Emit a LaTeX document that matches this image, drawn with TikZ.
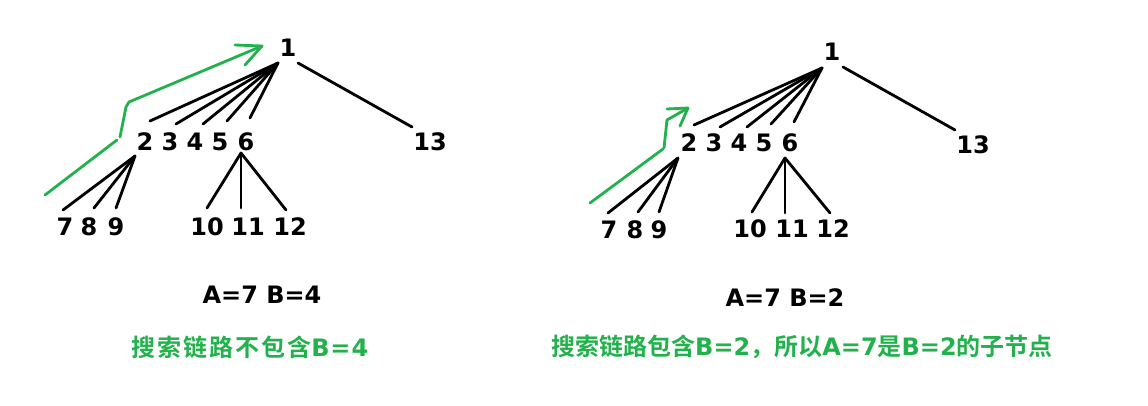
\documentclass[tikz,border=0pt]{standalone}
\usepackage{fontspec}
\usetikzlibrary{calc}
\setmainfont{DejaVu Sans}
\newfontfamily\lat{DejaVu Sans}
\newfontfamily\cjk{Noto Sans CJK SC}[BoldFont={* Bold}]
\newfontfamily\cjksp{Noto Sans CJK SC}[BoldFont={* Bold},LetterSpace=8]
\newfontfamily\latsp{DejaVu Sans}[LetterSpace=4]
\definecolor{pgreen}{HTML}{22B14C}
\begin{document}
\begin{tikzpicture}[x=1pt,y=-1pt,
  edge/.style={line width=2.8pt, line cap=round},
  gr/.style={line width=2.8pt, draw=pgreen, line cap=round, line join=round},
  num/.style={font=\lat\bfseries\fontsize{24}{28}\selectfont, inner sep=0pt},
  gtext/.style={font=\bfseries\fontsize{24}{28}\selectfont, text=pgreen, inner sep=0pt}]
\useasboundingbox (0,0) rectangle (1148,406);
\fill[white] (0,0) rectangle (1148,406);
% ---------- left tree ----------
\node[num] (L1) at (288,48) {1};
\node[num] (L2) at (145,142) {2};
\node[num] (L3) at (170,142) {3};
\node[num] (L4) at (195,142) {4};
\node[num] (L5) at (220,142) {5};
\node[num] (L6) at (246,142) {6};
\node[num] (L13) at (430,142) {13};
\node[num] (L7) at (65,227) {7};
\node[num] (L8) at (89,227) {8};
\node[num] (L9) at (116,227) {9};
\node[num] (L10) at (207,227) {10};
\node[num] (L11) at (248,227) {11};
\node[num] (L12) at (290,227) {12};
\draw[edge] ($(L1)+(-10,15)$) -- ($(L2)+(5,-21)$);
\draw[edge] ($(L1)+(-10,15)$) -- ($(L3)+(6,-18)$);
\draw[edge] ($(L1)+(-10,15)$) -- ($(L4)+(8,-18)$);
\draw[edge] ($(L1)+(-10,15)$) -- ($(L5)+(7,-21)$);
\draw[edge] ($(L1)+(-10,15)$) -- ($(L6)+(4,-24)$);
\draw[edge] ($(L1)+(10,15)$) -- ($(L13)+(-18,-15)$);
\draw[edge] ($(L2)+(-10,14)$) -- ($(L7)+(-2,-17)$);
\draw[edge] ($(L2)+(-10,14)$) -- ($(L8)+(5,-19)$);
\draw[edge] ($(L2)+(-10,14)$) -- ($(L9)+(0,-19)$);
\draw[edge] ($(L6)+(-5,11)$) -- ($(L10)+(0,-19)$);
\draw[edge] ($(L6)+(-5,11)$) -- ($(L11)+(-7,-19)$);
\draw[edge] ($(L6)+(-5,11)$) -- ($(L12)+(-4,-17)$);
% green path left
\draw[gr] (45,195) -- (117,140);
\draw[gr] (120,137) -- (126,107) -- (129,102) -- (262,46);
\draw[gr] (235,45) -- (262,46) -- (245,65);
% ---------- right tree ----------
\node[num] (R1) at (832,52) {1};
\node[num] (R2) at (689,143) {2};
\node[num] (R3) at (714,143) {3};
\node[num] (R4) at (739,143) {4};
\node[num] (R5) at (764,143) {5};
\node[num] (R6) at (790,143) {6};
\node[num] (R13) at (973,145) {13};
\node[num] (R7) at (609,230) {7};
\node[num] (R8) at (635,230) {8};
\node[num] (R9) at (659,230) {9};
\node[num] (R10) at (750,229) {10};
\node[num] (R11) at (792,229) {11};
\node[num] (R12) at (833,229) {12};
\draw[edge] ($(R1)+(-10,16)$) -- ($(R2)+(5,-18)$);
\draw[edge] ($(R1)+(-10,16)$) -- ($(R3)+(6,-16)$);
\draw[edge] ($(R1)+(-10,16)$) -- ($(R4)+(8,-16)$);
\draw[edge] ($(R1)+(-10,16)$) -- ($(R5)+(7,-19)$);
\draw[edge] ($(R1)+(-10,16)$) -- ($(R6)+(4,-21)$);
\draw[edge] ($(R1)+(11,15)$) -- ($(R13)+(-18,-15)$);
\draw[edge] ($(R2)+(-11,15)$) -- ($(R7)+(-1,-17)$);
\draw[edge] ($(R2)+(-11,15)$) -- ($(R8)+(3,-18)$);
\draw[edge] ($(R2)+(-11,15)$) -- ($(R9)+(0,-18)$);
\draw[edge] ($(R6)+(-5,15)$) -- ($(R10)+(2,-17)$);
\draw[edge] ($(R6)+(-5,15)$) -- ($(R11)+(-7,-16)$);
\draw[edge] ($(R6)+(-5,15)$) -- ($(R12)+(-3,-16)$);
% green path right
\draw[gr] (590,203) -- (663,149);
\draw[gr] (664,148) -- (667,120) -- (688,108);
\draw[gr] (667,109) -- (688,108) -- (680,126);
% ---------- texts ----------
\node[num] (AL) at (262,295) {A=7 B=4};
\node[num] (AR) at (785,298) {A=7 B=2};
\node[gtext] (GL) at (250,347) {\cjksp 搜索链路不包含\latsp B=4};
\node[gtext] (GR) at (802,347) {\cjk 搜索链路包含\lat B=2\cjk ，所以\lat A=7\cjk 是\lat B=2\cjk 的子节点};
\end{tikzpicture}
\end{document}
